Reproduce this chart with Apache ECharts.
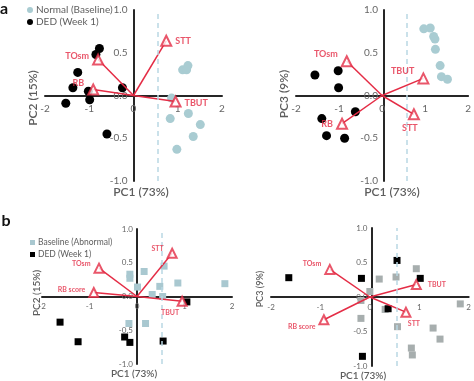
<!DOCTYPE html>
<html><head><meta charset="utf-8">
<script src="https://cdn.jsdelivr.net/npm/echarts@6/dist/echarts.min.js"></script>
<style>html,body{margin:0;padding:0;background:#fff}#c{width:474px;height:381px}</style>
</head><body><div id="c"></div>
<script>
// ---- data ----
const loadingNames = ['STT', 'TOsm', 'RB', 'TBUT'];
const loadingNamesB = ['STT', 'TOsm', 'RB score', 'TBUT'];
// panel a, PC1 vs PC2
const aNormalPC12 = [[1.11,0.30],[1.23,0.35],[1.20,0.30],[0.86,-0.03],[0.83,-0.27],[1.24,-0.21],[1.51,-0.34],[1.35,-0.48],[0.98,-0.63]];
const aDedPC12 = [[-0.77,0.55],[-0.85,0.48],[-1.26,0.27],[-1.37,0.09],[-1.53,-0.09],[-1.02,0.05],[-0.99,-0.05],[-0.25,0.09],[-0.60,-0.45]];
const aLoadPC12 = [[0.74,0.64],[-0.80,0.42],[-0.91,0.07],[0.95,-0.07]];
// panel a, PC1 vs PC3
const aNormalPC13 = [[0.97,0.78],[1.12,0.79],[1.20,0.69],[1.23,0.66],[1.24,0.54],[1.35,0.35],[1.38,0.22],[1.52,0.19]];
const aDedPC13 = [[-1.56,0.24],[-1.02,0.29],[-1.01,0.09],[-0.62,-0.19],[-1.40,-0.27],[-1.29,-0.47],[-0.87,-0.50]];
const aLoadPC13 = [[0.74,-0.22],[-0.82,0.40],[-0.93,-0.33],[0.96,0.20]];
// panel b, PC1 vs PC2
const bBaselinePC12 = [[-0.15,0.33],[-0.15,0.27],[0.15,0.37],[0.01,0.14],[0.32,0.03],[0.48,0.15],[0.57,0.45],[0.86,0.20],[0.54,0.0],[1.85,0.19],[-0.17,-0.40],[0.18,-0.40]];
const bDedPC12 = [[-1.62,-0.38],[-1.24,-0.67],[-0.26,-0.60],[-0.15,-0.68],[0.55,-0.66],[1.05,-0.08]];
const bLoadPC12 = [[0.74,0.64],[-0.80,0.42],[-0.91,0.06],[0.95,-0.07]];
// panel b, PC1 vs PC3
const bBaselinePC13 = [[0.19,0.26],[0.53,0.29],[0.94,0.41],[0.0,0.08],[-0.18,-0.05],[-0.18,-0.31],[0.31,-0.18],[0.56,-0.43],[1.28,-0.45],[1.42,-0.61],[0.84,-0.74],[0.86,-0.84],[1.83,-0.10]];
const bDedPC13 = [[-1.64,0.28],[-0.17,0.27],[0.55,0.53],[1.02,0.27],[0.37,-0.17],[-0.15,-0.86]];
const bLoadPC13 = [[0.73,-0.22],[-0.81,0.40],[-0.93,-0.33],[0.94,0.18]];
const dashedX = [0.55, 0.57, 0.53, 0.54];
const xTickLabels = ['-2', '-1', '0', '1', '2'];
const yTickLabels = ['-1.0', '-0.5', '0.0', '0.5', '1.0'];

// ---- styles ----
const RED = '#e42c45';
const GRAY = '#5d5d5d';
const FONT = 'Lato, "Open Sans", sans-serif';
const grids = [
  {left: 45, top: 10, width: 177, height: 171},
  {left: 296, top: 10, width: 176, height: 171},
  {left: 42, top: 229, width: 190, height: 135},
  {left: 271, top: 228, width: 201, height: 138}
];
const labelPos = [
  [['right',[0,0]],['left',[0,-3]],['left',[0,-6]],['right',[0,2]]],
  [['bottom',[-4,0]],['left',[0,-7]],['left',[0,0]],['left',[0,-7]]],
  [['left',[0,-5]],['left',[0,-4]],['left',[0,-3]],['bottom',[-12,0]]],
  [['bottom',[8,0]],['left',[0,-6]],['left',[0,7]],['right',[3,0]]]
];

const xAxes = [], yAxes = [], series = [];
grids.forEach((g, i) => {
  const small = i >= 2;
  // axes sit at the zero of the other axis, which is the centre of each grid
  xAxes.push({
    gridIndex: i, type: 'value', min: -2, max: 2, interval: 1,
    position: 'bottom', offset: -g.height / 2,
    axisLine: {onZero: false, lineStyle: {color: '#262626', width: 2}},
    axisTick: {show: false}, splitLine: {show: false},
    axisLabel: {color: '#666', fontSize: small ? 8 : 10, fontFamily: FONT, margin: small ? 6 : 8,
      formatter: v => xTickLabels[Math.round(v) + 2]}
  });
  yAxes.push({
    gridIndex: i, type: 'value', min: -1, max: 1, interval: 0.5,
    position: 'left', offset: -g.width / 2,
    axisLine: {onZero: false, lineStyle: {color: '#262626', width: 2}},
    axisTick: {show: false}, splitLine: {show: false},
    axisLabel: {color: '#666', fontSize: small ? 8 : 10, fontFamily: FONT, margin: small ? 4 : 6,
      formatter: v => yTickLabels[Math.round(v * 2) + 2]}
  });
});

function addPanel(i, groupA, groupB, load, names, nameA, nameB, colorA, sym, size) {
  const small = i >= 2;
  series.push({
    type: 'line', xAxisIndex: i, yAxisIndex: i, data: [], silent: true,
    markLine: {symbol: 'none', silent: true, label: {show: false},
      lineStyle: {color: '#b9d8e4', type: [5, 4], width: 1.5},
      data: [[{coord: [dashedX[i], -1]}, {coord: [dashedX[i], 1]}]]}
  });
  series.push({name: nameA, type: 'scatter', xAxisIndex: i, yAxisIndex: i, data: groupA,
    symbol: sym, symbolSize: size, itemStyle: {color: colorA, opacity: 1}, z: 3});
  series.push({name: nameB, type: 'scatter', xAxisIndex: i, yAxisIndex: i, data: groupB,
    symbol: sym, symbolSize: size, itemStyle: {color: '#000', opacity: 1}, z: 3});
  load.forEach((p, k) => {
    series.push({type: 'line', xAxisIndex: i, yAxisIndex: i, data: [[0, 0], p],
      symbol: 'none', lineStyle: {color: RED, width: 1.5}, z: 4, silent: true});
  });
  series.push({type: 'scatter', xAxisIndex: i, yAxisIndex: i, z: 5,
    data: load.map((p, k) => ({value: p, name: names[k],
      label: {position: labelPos[i][k][0], offset: labelPos[i][k][1]}})),
    symbol: 'emptyTriangle', symbolSize: small ? 9 : 10,
    itemStyle: {color: RED, borderWidth: 1.5},
    label: {show: true, formatter: '{b}', color: RED, fontWeight: 'bold',
      fontSize: small ? 7 : 9, fontFamily: FONT, distance: 3}
  });
}
addPanel(0, aNormalPC12, aDedPC12, aLoadPC12, loadingNames, 'Normal (Baseline)', 'DED (Week 1)', '#a9ccd2', 'circle', 9);
addPanel(1, aNormalPC13, aDedPC13, aLoadPC13, loadingNames, 'Normal (Baseline)', 'DED (Week 1)', '#a9ccd2', 'circle', 9);
addPanel(2, bBaselinePC12, bDedPC12, bLoadPC12, loadingNamesB, 'Baseline (Abnormal)', 'DED (Week 1) ', '#a9c8d0', 'rect', 7);
addPanel(3, bBaselinePC13, bDedPC13, bLoadPC13, loadingNamesB, 'Baseline (Abnormal) ', 'DED (Week 1)  ', '#a7aeae', 'rect', 7);

function txt(x, y, s, size, rot, weight, color) {
  return {type: 'text', x: x, y: y, rotation: rot || 0, z: 10,
    style: {text: s, fontSize: size, fontFamily: FONT, fontWeight: weight || 'normal',
      fill: color || GRAY, textAlign: 'center', textVerticalAlign: 'middle'}};
}

const option = {
  animation: false,
  grid: grids,
  xAxis: xAxes,
  yAxis: yAxes,
  series: series,
  legend: [
    {left: 22, top: 0, orient: 'vertical', itemGap: 2, itemWidth: 6, itemHeight: 6,
      textStyle: {color: GRAY, fontSize: 10, fontFamily: FONT, padding: [0, 0, 0, -2]},
      data: [{name: 'Normal (Baseline)', icon: 'circle'}, {name: 'DED (Week 1)', icon: 'circle'}]},
    {left: 25, top: 233, orient: 'vertical', itemGap: 3, itemWidth: 5, itemHeight: 5,
      textStyle: {color: GRAY, fontSize: 8.5, fontFamily: FONT, padding: [0, 0, 0, -2]},
      data: [{name: 'Baseline (Abnormal)', icon: 'rect'}, {name: 'DED (Week 1) ', icon: 'rect'}]}
  ],
  graphic: [
    txt(4, 9, 'a', 16, 0, 'bold', '#111'),
    txt(6, 221, 'b', 16, 0, 'bold', '#111'),
    txt(141, 192, 'PC1 (73%)', 12, 0, '600'),
    txt(33, 98, 'PC2 (15%)', 12, Math.PI / 2, '600'),
    txt(392, 192, 'PC1 (73%)', 12, 0, '600'),
    txt(284, 94, 'PC3 (9%)', 12, Math.PI / 2, '600'),
    txt(134, 374, 'PC1 (73%)', 10, 0, '600'),
    txt(37, 293, 'PC2 (15%)', 10, Math.PI / 2, '600'),
    txt(363, 376, 'PC1 (73%)', 10, 0, '600'),
    txt(260, 289, 'PC3 (9%)', 9, Math.PI / 2, '600')
  ]
};
const chart = echarts.init(document.getElementById('c'));
chart.setOption(option);
</script></body></html>
